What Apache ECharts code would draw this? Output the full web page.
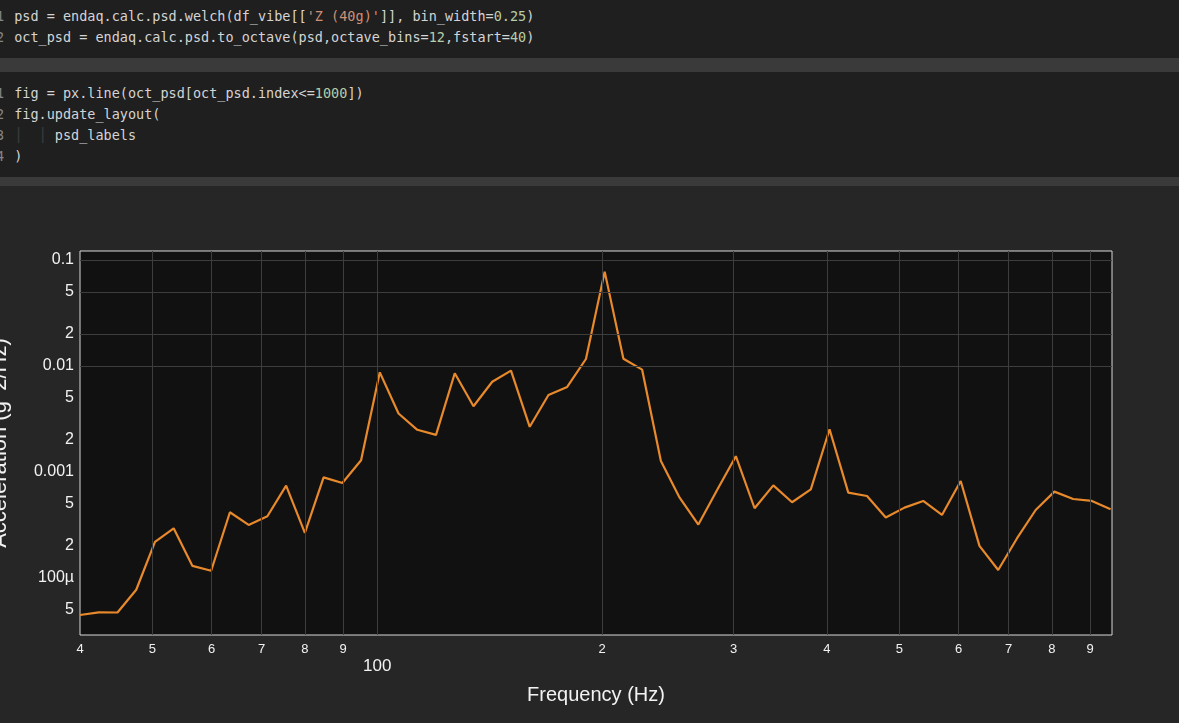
<!DOCTYPE html>
<html>
<head>
<meta charset="utf-8">
<script src="https://cdn.jsdelivr.net/npm/echarts@6/dist/echarts.min.js"></script>
<style>
  html, body { margin: 0; padding: 0; width: 1179px; height: 723px; overflow: hidden; background: #262626; }
  #chart { position: absolute; left: 0; top: 0; width: 1179px; height: 723px; }
  .cell { position: absolute; left: 0; width: 1179px; background: #1f1f1f; }
  .sep { position: absolute; left: 0; width: 1179px; background: #3a3a3a; }
  pre { margin: 0; font-family: "DejaVu Sans Mono", "Liberation Mono", monospace; font-size: 13.5px; line-height: 21px; color: #d4d4d4; }
  .ln { display: inline-block; width: 10px; margin-left: -4px; color: #858585; }
  .s { color: #ce9178; }
  .n { color: #b5cea8; }
  .g { color: #404040; }
</style>
</head>
<body>
<div id="chart"></div>
<div class="cell" style="top:0;height:58px;padding-top:6px;box-sizing:border-box;">
<pre><span class="ln">1</span> psd = endaq.calc.psd.welch(df_vibe[[<span class="s">'Z (40g)'</span>]], bin_width=<span class="n">0.25</span>)
<span class="ln">2</span> oct_psd = endaq.calc.psd.to_octave(psd,octave_bins=<span class="n">12</span>,fstart=<span class="n">40</span>)</pre>
</div>
<div class="sep" style="top:58px;height:14px;"></div>
<div class="cell" style="top:72px;height:105px;padding-top:11px;box-sizing:border-box;">
<pre><span class="ln">1</span> fig = px.line(oct_psd[oct_psd.index&lt;=<span class="n">1000</span>])
<span class="ln">2</span> fig.update_layout(
<span class="ln">3</span> <span class="g">│  │</span> psd_labels
<span class="ln">4</span> )</pre>
</div>
<div class="sep" style="top:177px;height:9px;"></div>
<script>
// 1/12 octave bin centres (Hz)
const freqs = [40, 42.38, 44.90, 47.57, 50.40, 53.39, 56.57, 59.93, 63.50, 67.27,
  71.27, 75.51, 80, 84.76, 89.80, 95.14, 100.79, 106.78, 113.14, 119.86,
  126.99, 134.54, 142.54, 151.02, 160, 169.51, 179.59, 190.27, 201.59, 213.57,
  226.27, 239.73, 253.98, 269.08, 285.09, 302.04, 320, 339.03, 359.19, 380.55,
  403.17, 427.15, 452.55, 479.46, 507.97, 538.17, 570.17, 604.08, 640, 678.06,
  718.38, 761.10, 806.35, 854.30, 905.10, 958.91];

// PSD, g^2/Hz
const psdValues = [4.48e-5, 4.74e-5, 4.73e-5, 7.75e-5, 2.19e-4, 2.94e-4, 1.30e-4, 1.17e-4, 4.17e-4, 3.17e-4,
  3.82e-4, 7.43e-4, 2.66e-4, 8.9e-4, 7.87e-4, 1.29e-3, 8.71e-3, 3.56e-3, 2.50e-3, 2.24e-3,
  8.53e-3, 4.17e-3, 7.1e-3, 9.04e-3, 2.67e-3, 5.33e-3, 6.34e-3, 1.164e-2, 7.76e-2, 1.17e-2,
  9.23e-3, 1.27e-3, 5.73e-4, 3.19e-4, 6.76e-4, 1.41e-3, 4.55e-4, 7.48e-4, 5.18e-4, 6.86e-4,
  2.53e-3, 6.38e-4, 5.94e-4, 3.72e-4, 4.61e-4, 5.33e-4, 3.93e-4, 8.22e-4, 2.01e-4, 1.19e-4,
  2.36e-4, 4.38e-4, 6.53e-4, 5.56e-4, 5.33e-4, 4.45e-4];

const xTicks = [40, 50, 60, 70, 80, 90, 100, 200, 300, 400, 500, 600, 700, 800, 900];
const yTicks = [5e-5, 1e-4, 2e-4, 5e-4, 1e-3, 2e-3, 5e-3, 1e-2, 2e-2, 5e-2, 1e-1];
const yTickLabels = ['5', '100µ', '2', '5', '0.001', '2', '5', '0.01', '2', '5', '0.1'];

const xLabel = v => {
  if (Math.abs(v - 100) < 1e-6) return '\n{big|100}';
  const r = Math.round(v);
  return String(r >= 100 ? r / 100 : r / 10);
};
const yLabel = v => {
  const i = yTicks.findIndex(t => Math.abs(t - v) / t < 1e-6);
  return i >= 0 ? yTickLabels[i] : '';
};

const font = '"Liberation Sans", Arial, sans-serif';
const gridColor = '#3d3d3d';
const chart = echarts.init(document.getElementById('chart'));
chart.setOption({
  backgroundColor: 'transparent',
  animation: false,
  textStyle: { fontFamily: font },
  grid: { left: 80, right: 67, top: 251, bottom: 88, show: true, backgroundColor: '#111111', borderColor: '#d8d8d8', borderWidth: 1 },
  xAxis: {
    type: 'log', min: 40, max: 963,
    name: 'Frequency (Hz)', nameLocation: 'middle', nameGap: 50,
    nameTextStyle: { color: '#f2f2f2', fontSize: 20, fontFamily: font },
    axisLine: { show: false }, axisTick: { show: false }, splitLine: { show: false },
    axisLabel: {
      customValues: xTicks, formatter: xLabel, color: '#f2f2f2', fontSize: 13, margin: 8,
      rich: { big: { fontSize: 17, color: '#f2f2f2', lineHeight: 20, fontFamily: font } }
    }
  },
  yAxis: {
    type: 'log', min: 2.9e-5, max: 0.1215,
    axisLine: { show: false }, axisTick: { show: false }, splitLine: { show: false },
    axisLabel: { customValues: yTicks, formatter: yLabel, color: '#f2f2f2', fontSize: 16, margin: 6 }
  },
  graphic: [{
    type: 'text', x: 0, y: 443, rotation: Math.PI / 2,
    style: { text: 'Acceleration (g^2/Hz)', fill: '#f2f2f2', fontSize: 22, align: 'center', verticalAlign: 'middle', fontFamily: font }
  }],
  series: [{
    type: 'line',
    data: freqs.map((f, i) => [f, psdValues[i]]),
    showSymbol: false,
    lineStyle: { color: '#e8892c', width: 2.2 },
    itemStyle: { color: '#e8892c' },
    z: 3,
    markLine: {
      silent: true, symbol: 'none', label: { show: false },
      lineStyle: { color: gridColor, width: 1, type: 'solid' },
      data: xTicks.slice(1).map(v => ({ xAxis: v })).concat(yTicks.map(v => ({ yAxis: v })))
    }
  }]
});
</script>
</body>
</html>
